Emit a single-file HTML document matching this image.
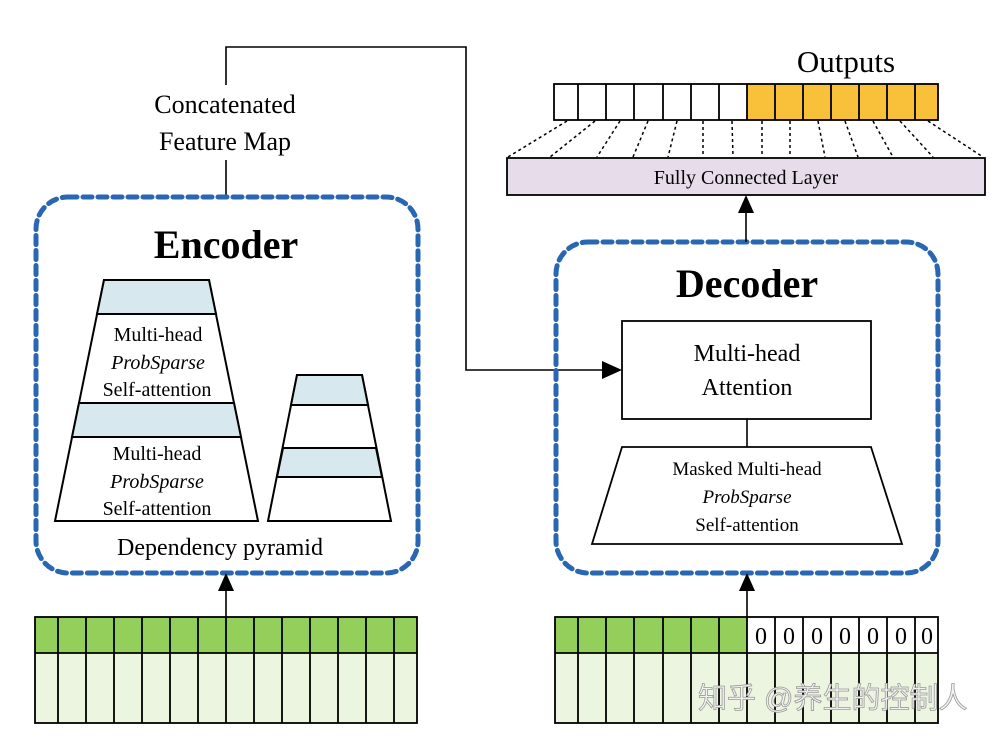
<!DOCTYPE html>
<html><head><meta charset="utf-8"><style>
html,body{margin:0;padding:0;background:#fff;}
svg{display:block;}
text{font-family:"Liberation Serif",serif;fill:#000;}
</style></head><body>
<svg width="997" height="741" viewBox="0 0 997 741" xmlns="http://www.w3.org/2000/svg">
<defs>
<marker id="ah" markerWidth="10" markerHeight="10" refX="9" refY="5" orient="auto" markerUnits="userSpaceOnUse">
<path d="M0,0 L10,5 L0,10 z" fill="#000"/>
</marker>
<marker id="ah2" markerWidth="16" markerHeight="18" refX="16" refY="9" orient="auto" markerUnits="userSpaceOnUse">
<path d="M0,0 L16,9 L0,18 z" fill="#000"/>
</marker>
</defs>

<!-- Concatenated feature map connector -->
<polyline points="226,85 226,47 466,47 466,370 604,370" fill="none" stroke="#000" stroke-width="1.6"/>
<path d="M602,361 L622,370 L602,379 z" fill="#000"/>
<line x1="226" y1="160" x2="226" y2="197" stroke="#000" stroke-width="1.6"/>
<text x="225" y="113" font-size="26" text-anchor="middle">Concatenated</text>
<text x="225" y="150" font-size="26" text-anchor="middle">Feature Map</text>

<!-- Encoder box -->
<rect x="36" y="197" width="382" height="376" rx="32" fill="none" stroke="#2a67b3" stroke-width="5" stroke-dasharray="9,6" stroke-linecap="round"/>
<text x="226" y="258" font-size="40" font-weight="bold" text-anchor="middle">Encoder</text>

<!-- big pyramid -->
<polygon points="104,280 209,280 258,521 55,521" fill="#fff" stroke="#000" stroke-width="2"/>
<polygon points="104,280 209,280 216,314 97,314" fill="#d7e8ef" stroke="#000" stroke-width="2"/>
<polygon points="79,403 234,403 241,437 72,437" fill="#d7e8ef" stroke="#000" stroke-width="2"/>
<text x="158" y="341" font-size="20" text-anchor="middle">Multi-head</text>
<text x="158" y="369" font-size="20" text-anchor="middle" font-style="italic">ProbSparse</text>
<text x="157" y="396" font-size="20" text-anchor="middle">Self-attention</text>
<text x="157" y="460" font-size="20" text-anchor="middle">Multi-head</text>
<text x="157" y="488" font-size="20" text-anchor="middle" font-style="italic">ProbSparse</text>
<text x="157" y="515" font-size="20" text-anchor="middle">Self-attention</text>

<!-- small pyramid -->
<polygon points="297,375 362,375 391,521 268,521" fill="#fff" stroke="#000" stroke-width="2"/>
<polygon points="297,375 362,375 368,405 291,405" fill="#d7e8ef" stroke="#000" stroke-width="2"/>
<polygon points="283,448 376,448 382,477 277,477" fill="#d7e8ef" stroke="#000" stroke-width="2"/>

<text x="220" y="555" font-size="24" text-anchor="middle">Dependency pyramid</text>

<!-- encoder arrow -->
<line x1="226" y1="617" x2="226" y2="590" stroke="#000" stroke-width="1.6"/>
<path d="M218,591 L226,573 L234,591 z" fill="#000"/>

<!-- encoder input grid -->
<rect x="35" y="617" width="382" height="36" fill="#94cf5b"/>
<rect x="35" y="653" width="382" height="70" fill="#ecf5df"/>
<g stroke="#000" stroke-width="1.8" fill="none">
<rect x="35" y="617" width="382" height="106"/>
<line x1="35" y1="653" x2="417" y2="653"/>
<path d="M58,617V723M86,617V723M114,617V723M142,617V723M170,617V723M198,617V723M226,617V723M254,617V723M282,617V723M310,617V723M338,617V723M366,617V723M394,617V723"/>
</g>

<!-- Decoder box -->
<rect x="556" y="242" width="382" height="331" rx="32" fill="none" stroke="#2a67b3" stroke-width="5" stroke-dasharray="9,6" stroke-linecap="round"/>
<text x="747" y="297" font-size="40" font-weight="bold" text-anchor="middle">Decoder</text>
<rect x="622" y="321" width="249" height="98" fill="#fff" stroke="#000" stroke-width="1.8"/>
<text x="747" y="361" font-size="24" text-anchor="middle">Multi-head</text>
<text x="747" y="395" font-size="24" text-anchor="middle">Attention</text>
<line x1="747" y1="419" x2="747" y2="447" stroke="#000" stroke-width="1.6"/>
<polygon points="622,447 871,447 902,544 592,544" fill="#fff" stroke="#000" stroke-width="1.8"/>
<text x="747" y="475" font-size="19" text-anchor="middle">Masked Multi-head</text>
<text x="747" y="503" font-size="19" text-anchor="middle" font-style="italic">ProbSparse</text>
<text x="747" y="531" font-size="19" text-anchor="middle">Self-attention</text>

<!-- decoder up arrows -->
<line x1="747" y1="617" x2="747" y2="590" stroke="#000" stroke-width="1.6"/>
<path d="M739,591 L747,573 L755,591 z" fill="#000"/>
<line x1="746" y1="242" x2="746" y2="212" stroke="#000" stroke-width="1.6"/>
<path d="M738,213 L746,195 L754,213 z" fill="#000"/>

<!-- decoder input grid -->
<rect x="555" y="617" width="192" height="36" fill="#94cf5b"/>
<rect x="747" y="617" width="191" height="36" fill="#fff"/>
<rect x="555" y="653" width="383" height="70" fill="#ecf5df"/>
<g stroke="#000" stroke-width="1.8" fill="none">
<rect x="555" y="617" width="383" height="106"/>
<line x1="555" y1="653" x2="938" y2="653"/>
<path d="M578,617V723M606,617V723M634,617V723M663,617V723M691,617V723M719,617V723M747,617V723M775,617V723M803,617V723M831,617V723M859,617V723M887,617V723M915,617V723"/>
</g>
<g font-size="24" text-anchor="middle" style="font-family:'Liberation Sans',sans-serif">
<text x="761" y="644">0</text><text x="789" y="644">0</text><text x="817" y="644">0</text><text x="845" y="644">0</text><text x="873" y="644">0</text><text x="901" y="644">0</text><text x="927" y="644">0</text>
</g>

<!-- Outputs -->
<text x="846" y="72" font-size="31" text-anchor="middle">Outputs</text>
<rect x="554" y="84" width="193" height="36" fill="#fff"/>
<rect x="747" y="84" width="191" height="36" fill="#f9c03a"/>
<g stroke="#000" stroke-width="1.8" fill="none">
<rect x="554" y="84" width="384" height="36"/>
<path d="M578,84V120M606,84V120M634,84V120M663,84V120M691,84V120M719,84V120M747,84V120M775,84V120M803,84V120M831,84V120M859,84V120M887,84V120M915,84V120"/>
</g>
<g stroke="#000" stroke-width="1.5" stroke-dasharray="3,3" fill="none">
<line x1="567" y1="121" x2="508" y2="157"/>
<line x1="595" y1="121" x2="550" y2="157"/>
<line x1="620" y1="121" x2="597" y2="157"/>
<line x1="648" y1="121" x2="633" y2="157"/>
<line x1="677" y1="121" x2="668" y2="157"/>
<line x1="703" y1="121" x2="703" y2="157"/>
<line x1="732" y1="121" x2="733" y2="157"/>
<line x1="762" y1="121" x2="762" y2="157"/>
<line x1="790" y1="121" x2="790" y2="157"/>
<line x1="818" y1="121" x2="825" y2="157"/>
<line x1="845" y1="121" x2="858" y2="157"/>
<line x1="873" y1="121" x2="893" y2="157"/>
<line x1="900" y1="121" x2="933" y2="157"/>
<line x1="928" y1="121" x2="983" y2="157"/>
</g>
<rect x="507" y="158" width="478" height="37" fill="#e7dcea" stroke="#000" stroke-width="1.8"/>
<text x="746" y="184" font-size="20" text-anchor="middle">Fully Connected Layer</text>

<!-- watermark -->
<text x="698" y="708" font-size="29" fill="#f2f2f2" stroke="#9a9a9a" stroke-width="0.8" style="font-family:'Liberation Sans','Noto Sans CJK SC',sans-serif;fill:#f2f2f2">知乎 @养生的控制人</text>
</svg>
</body></html>
